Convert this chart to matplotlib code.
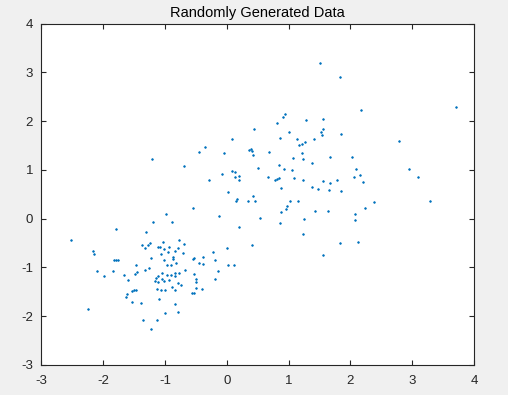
import matplotlib
matplotlib.use('Agg')
import matplotlib.pyplot as plt

# points (x, y)
x_vals = [
    -1.79, -2.52, -1.30, -2.17, -2.14, -1.37, -1.33, -1.25, -1.28, -1.83,
    -1.79, -1.76, -2.10, -1.98, -1.84, -1.66, -1.59, -1.47, -1.45, -1.48,
    -1.33, -1.26, -1.53, -1.50, -1.47, -1.61, -1.63, -1.54, -1.38, -2.24,
    -1.36, 0.15, 0.35, -0.54, -0.99, -0.12, -1.19, -0.89, 0.20, -0.78,
    -0.70, -1.03, -1.12, -1.08, -1.01, -0.93, -0.95, -0.84, -0.79, -1.07,
    -0.71, -0.87, -1.22, -1.01, -0.87, -0.82, -0.97, -0.91, -0.53, -0.54,
    -0.45, -0.38, -0.38, -0.23, -0.19, 0.01, 0.02, 0.12, -1.04, -0.96,
    -0.90, -0.84, -0.77, -0.67, -0.83, -1.12, -1.14, -1.04, -1.01, -1.16,
    -1.12, -0.94, -0.79, -0.74, -0.53, -0.50, -0.49, -0.15, -0.19, -1.13,
    -1.07, -1.00, -0.89, -0.83, -0.50, -0.40, -0.57, -0.53, -1.10, -0.84,
    -1.00, -0.79, -1.13, -1.23, -1.21, -0.70,
    0.94, 0.91, 0.82, 0.44, 1.00, 0.86, 1.14, 0.09, -0.35, -0.45,
    -0.05, 0.36, 0.39, 0.40, 0.43, 0.68, 1.17, 1.07, 0.51, 0.85,
    0.93, 1.06, 0.09, 0.13, -0.07, 0.14, 0.20, 0.19, -0.28, 0.67,
    0.78, 0.81, 0.84, 1.08, 0.87, 0.02, 0.43, 0.45, 0.17, 1.03,
    1.15, 0.98, 0.95, 0.88, 0.54, 0.86, 0.41, 1.51, 1.83, 2.17,
    1.28, 1.55, 1.55, 1.53, 1.54, 1.84, 1.41, 1.22, 1.26, 1.22,
    1.24, 1.37, 1.67, 2.03, 2.09, 1.24, 2.06, 2.16, 2.20, 1.55,
    1.67, 1.78, 1.38, 1.48, 1.66, 1.84, 2.38, 1.42, 1.63, 2.23,
    2.07, 2.07, 1.25, 1.24, 1.83, 2.12, 1.56, 3.70, 2.78, 2.95,
    3.09, 3.29,
]
y_vals = [
    -0.22, -0.44, -0.27, -0.66, -0.72, -0.54, -0.61, -0.50, -0.53, -0.85,
    -0.85, -0.85, -1.07, -1.17, -1.07, -1.15, -1.26, -0.95, -1.09, -1.13,
    -1.06, -1.02, -1.49, -1.46, -1.46, -1.54, -1.61, -1.71, -1.73, -1.86,
    -2.07, 0.37, 0.36, 0.21, 0.09, 0.06, -0.07, -0.07, -0.18, -0.43,
    -0.52, -0.48, -0.59, -0.59, -0.63, -0.57, -0.68, -0.66, -0.61, -0.73,
    -0.70, -0.78, -0.81, -0.85, -0.83, -0.91, -0.95, -0.95, -0.81, -0.83,
    -0.90, -0.79, -0.93, -0.68, -0.85, -0.61, -0.95, -0.95, -1.11, -1.15,
    -1.15, -1.11, -1.11, -1.05, -1.17, -1.17, -1.22, -1.24, -1.28, -1.28,
    -1.30, -1.26, -1.32, -1.35, -1.13, -1.24, -1.29, -1.07, -1.24, -1.44,
    -1.47, -1.47, -1.41, -1.47, -1.42, -1.45, -1.52, -1.53, -1.65, -1.75,
    -1.93, -1.91, -2.08, -2.26, 1.22, 1.08,
    2.15, 2.09, 1.96, 1.85, 1.77, 1.66, 1.64, 1.63, 1.48, 1.36,
    1.35, 1.40, 1.42, 1.39, 1.31, 1.37, 1.51, 1.24, 1.05, 1.10,
    1.02, 0.99, 0.98, 0.96, 0.91, 0.86, 0.87, 0.79, 0.79, 0.85,
    0.79, 0.81, 0.84, 0.84, 0.64, 0.55, 0.47, 0.36, 0.40, 0.37,
    0.37, 0.27, 0.20, 0.13, 0.01, -0.09, -0.54, 3.19, 2.91, 2.24,
    2.02, 2.04, 1.83, 1.78, 1.72, 1.73, 1.64, 1.53, 1.57, 1.34,
    1.23, 1.14, 1.26, 1.27, 1.03, 0.79, 0.86, 0.90, 0.75, 0.77,
    0.73, 0.80, 0.65, 0.60, 0.59, 0.56, 0.34, 0.16, 0.16, 0.21,
    0.10, -0.03, -0.01, -0.31, -0.50, -0.47, -0.75, 2.29, 1.60, 1.02,
    0.86, 0.37,
]
x_ticks = [-3, -2, -1, 0, 1, 2, 3, 4]
y_ticks = [-3, -2, -1, 0, 1, 2, 3, 4]
title = 'Randomly Generated Data'

plt.rcParams['font.family'] = ['Liberation Sans', 'DejaVu Sans']
plt.rcParams['axes.unicode_minus'] = False
axis_col = '#262626'

fig = plt.figure(figsize=(5.08, 3.95), dpi=100, facecolor='#f0f0f0')
ax = fig.add_axes([0.0813, 0.076, 0.852, 0.864])
ax.set_facecolor('white')

ax.plot(x_vals, y_vals, linestyle='none', marker='o', markersize=1.2,
        markeredgewidth=0.5, color='#0072bd')

ax.set_xlim(-3, 4)
ax.set_ylim(-3, 4)
ax.set_xticks(x_ticks)
ax.set_yticks(y_ticks)
ax.tick_params(direction='in', length=3.5, width=0.8, top=True, right=True,
               labelsize=9.5, colors=axis_col)
ax.tick_params(axis='x', pad=7)
ax.tick_params(axis='y', pad=6)
for s in ax.spines.values():
    s.set_color(axis_col)
    s.set_linewidth(0.8)

ax.set_title(title, fontsize=10.5, color='black', pad=5)

fig.savefig('out.png', dpi=100, facecolor=fig.get_facecolor())
